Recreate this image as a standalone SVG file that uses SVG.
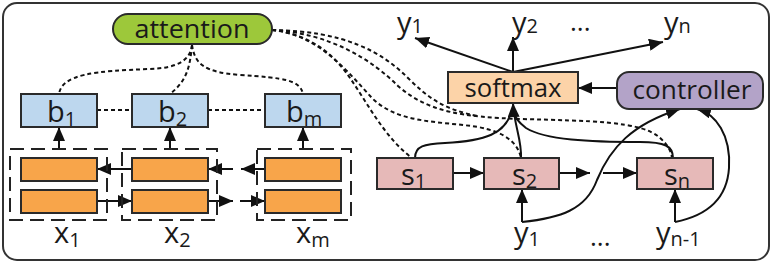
<svg xmlns="http://www.w3.org/2000/svg" width="777" height="266" viewBox="0 0 777 266">
<defs>
<marker id="ah" markerUnits="userSpaceOnUse" markerWidth="14" markerHeight="12" viewBox="0 0 14 12" refX="14" refY="6" orient="auto">
<path d="M0,0 L14,6 L0,12 z" fill="#111"/>
</marker>
<style>
.box{stroke:#2a2a2a;stroke-width:2}
.ln{fill:none;stroke:#111;stroke-width:2}
.arr{fill:none;stroke:#111;stroke-width:2;marker-end:url(#ah)}
.dot{fill:none;stroke:#111;stroke-width:2;stroke-dasharray:4 3}
.dash{fill:none;stroke:#222;stroke-width:2;stroke-dasharray:14 7}
text{font-family:"Open Sans","Liberation Sans",sans-serif;fill:#1a1a1a}
.lbl{font-size:26px}
.v{font-size:29px}
.sub{font-size:20px}
</style>
</defs>
<rect x="3" y="3" width="766" height="257" rx="14" fill="#fff" stroke="#333" stroke-width="2"/>

<g id="connectors">
<path class="dot" d="M192,45 C190,62 175,68 150,69 C95,71 62,74 59,94"/>
<path class="dot" d="M192,45 C190,65 188,80 170,94"/>
<path class="dot" d="M192,45 C195,65 205,72 240,75 C285,78 300,80 303,94"/>
<path class="dot" d="M97,110 L132,110"/>
<path class="dot" d="M208,110 L265,110"/>
<path class="dot" d="M272,30 C310,35 332,52 350,78 C368,104 385,138 412,158"/>
<path class="dot" d="M272,30 C318,34 348,72 372,98 C398,124 440,121 478,127 C505,132 518,143 521,158"/>
<path class="dot" d="M272,30 C330,33 372,60 398,86 C428,112 462,117 522,119 C590,121 640,121 659,137 C667,144 671,150 672,158"/>
<path class="dot" d="M272,30 C345,31 382,52 408,78 C428,98 445,110 478,116"/>
<path class="arr" d="M59,149 L59,127"/>
<path class="arr" d="M170,149 L170,127"/>
<path class="arr" d="M303,149 L303,127"/>
<path class="arr" d="M132,169 L97,169"/>
<path class="arr" d="M233,169 L208,169"/>
<path class="arr" d="M265,169 L241,169"/>
<path class="arr" d="M97,201 L132,201"/>
<path class="arr" d="M208,201 L233,201"/>
<path class="arr" d="M240,201 L265,201"/>
<path class="arr" d="M513,72 L415,38"/>
<path class="arr" d="M513,72 L513,37"/>
<path class="arr" d="M513,72 L663,42"/>
<path class="arr" d="M617,88 L578,88"/>
<path class="ln" d="M415,158 C415,146 424,144 445,143 C485,141 506,134 512,110"/>
<path class="ln" d="M673,158 C673,146 665,142 640,142 C590,142 545,140 526,128 C518,122 514,116 513,110"/>
<path class="arr" d="M521,158 C522,140 514,125 513,103"/>
<path class="arr" d="M453,173 L484,173"/>
<path class="arr" d="M559,173 L590,173"/>
<path class="arr" d="M603,173 L637,173"/>
<path class="arr" d="M522,222 L522,189"/>
<path class="arr" d="M675,222 L675,189"/>
<path class="arr" d="M522,222 C560,218 586,210 597,180 C610,148 632,124 680,109"/>
<path class="arr" d="M675,222 C705,216 727,200 729,168 C731,135 716,114 697,109"/>
</g>

<g id="attention">
<rect class="box" x="113" y="14" width="159" height="30" rx="15" fill="#9dc83a"/>
<text class="lbl" x="192" y="38" text-anchor="middle" textLength="115" lengthAdjust="spacingAndGlyphs">attention</text>
</g>

<g id="b1"><rect class="box" x="21" y="94" width="76" height="33" fill="#bdd7ee"/><text class="v" x="47" y="122">b<tspan class="sub" dy="4">1</tspan></text></g>
<g id="b2"><rect class="box" x="132" y="94" width="76" height="33" fill="#bdd7ee"/><text class="v" x="158" y="122">b<tspan class="sub" dy="4">2</tspan></text></g>
<g id="bm"><rect class="box" x="265" y="94" width="76" height="33" fill="#bdd7ee"/><text class="v" x="286" y="122">b<tspan class="sub" dy="4">m</tspan></text></g>

<g id="x1">
<rect class="dash" x="10" y="149" width="97" height="71"/>
<rect class="box" x="21" y="158" width="76" height="23" fill="#f8a54a"/>
<rect class="box" x="21" y="190" width="76" height="23" fill="#f8a54a"/>
<text class="v" x="54" y="243">x<tspan class="sub" dy="4">1</tspan></text>
</g>
<g id="x2">
<rect class="dash" x="122" y="149" width="95" height="71"/>
<rect class="box" x="132" y="158" width="76" height="23" fill="#f8a54a"/>
<rect class="box" x="132" y="190" width="76" height="23" fill="#f8a54a"/>
<text class="v" x="164" y="243">x<tspan class="sub" dy="4">2</tspan></text>
</g>
<g id="xm">
<rect class="dash" x="257" y="149" width="94" height="71"/>
<rect class="box" x="265" y="158" width="76" height="23" fill="#f8a54a"/>
<rect class="box" x="265" y="190" width="76" height="23" fill="#f8a54a"/>
<text class="v" x="296" y="243">x<tspan class="sub" dy="4">m</tspan></text>
</g>

<g id="softmax">
<rect class="box" x="448" y="72" width="130" height="31" fill="#fcd3a8"/>
<text class="lbl" x="513" y="97" text-anchor="middle" textLength="97" lengthAdjust="spacingAndGlyphs">softmax</text>
</g>
<g id="controller">
<rect class="box" x="617" y="72" width="146" height="37" rx="12" fill="#b3a3c8"/>
<text class="lbl" x="692" y="99" text-anchor="middle" textLength="119" lengthAdjust="spacingAndGlyphs">controller</text>
</g>

<g id="s1"><rect class="box" x="377" y="158" width="76" height="31" fill="#e6b9b8"/><text class="v" x="401" y="185">s<tspan class="sub" dy="3">1</tspan></text></g>
<g id="s2"><rect class="box" x="484" y="158" width="75" height="31" fill="#e6b9b8"/><text class="v" x="512" y="185">s<tspan class="sub" dy="3">2</tspan></text></g>
<g id="sn"><rect class="box" x="637" y="158" width="76" height="31" fill="#e6b9b8"/><text class="v" x="664" y="185">s<tspan class="sub" dy="3">n</tspan></text></g>

<g id="outputs">
<text class="v" x="397" y="33">y<tspan class="sub">1</tspan></text>
<text class="v" x="512" y="33">y<tspan class="sub">2</tspan></text>
<text class="lbl" x="570" y="31">...</text>
<text class="v" x="664" y="33">y<tspan class="sub">n</tspan></text>
</g>
<g id="inputs">
<text class="v" x="514" y="243">y<tspan class="sub" dy="3">1</tspan></text>
<text class="lbl" x="590" y="246">...</text>
<text class="v" x="656" y="243">y<tspan class="sub" dy="3">n-1</tspan></text>
</g>
</svg>
